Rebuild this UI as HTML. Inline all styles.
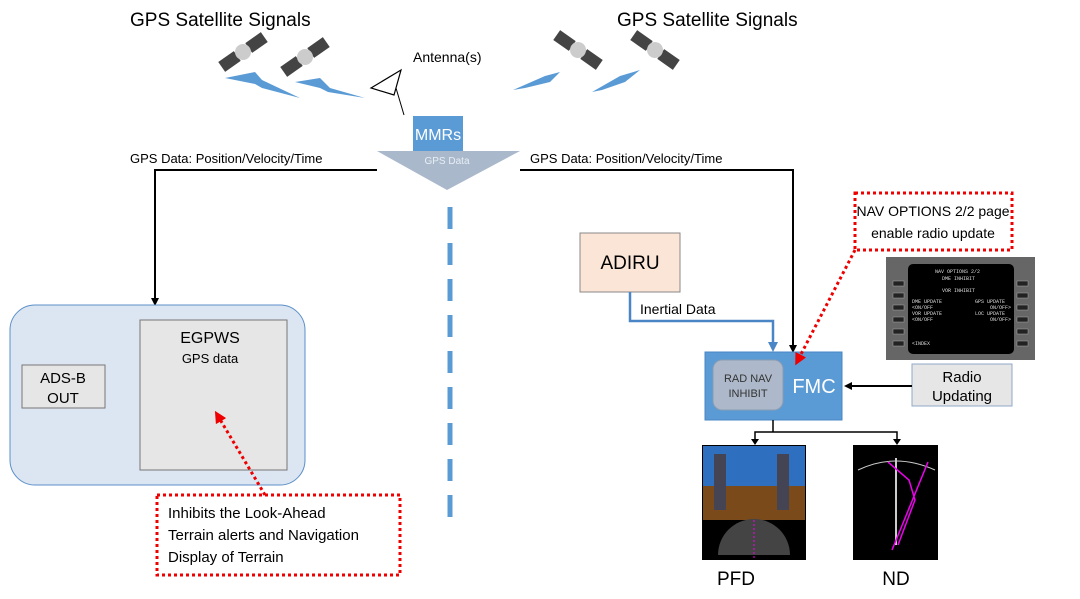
<!DOCTYPE html><html><head><meta charset="utf-8"><style>
body{margin:0;width:1080px;height:594px;background:#fff;overflow:hidden;font-family:"Liberation Sans",sans-serif}
</style></head><body>
<svg width="1080" height="594" viewBox="0 0 1080 594" font-family="Liberation Sans, sans-serif">
<defs>
<marker id="ab" markerWidth="8" markerHeight="8" refX="4" refY="4" orient="auto" markerUnits="userSpaceOnUse"><path d="M0,0 L8,4 L0,8 z" fill="#000"/></marker>
<marker id="abl" markerWidth="10" markerHeight="10" refX="5" refY="5" orient="auto" markerUnits="userSpaceOnUse"><path d="M0,0 L10,5 L0,10 z" fill="#4a86c5"/></marker>
<marker id="ar" markerWidth="12" markerHeight="12" refX="6" refY="6" orient="auto" markerUnits="userSpaceOnUse"><path d="M0,0 L12,6 L0,12 z" fill="#e00"/></marker>
<g id="sat"><rect x="-26" y="-6" width="19" height="12" fill="#444" transform="rotate(-35)"/><rect x="7" y="-6" width="19" height="12" fill="#444" transform="rotate(-35)"/><circle r="8" fill="#ccc"/></g>
</defs>
<text x="130" y="26" font-size="19">GPS Satellite Signals</text>
<text x="617" y="26" font-size="19">GPS Satellite Signals</text>
<use href="#sat" x="243" y="52"/><use href="#sat" x="305" y="57"/>
<use href="#sat" x="578" y="50" transform="rotate(70 578 50)"/><use href="#sat" x="655" y="50" transform="rotate(70 655 50)"/>
<path d="M225,78 L255,72 L262,80 L300,98 L262,88 L255,84 Z" fill="#5b9bd5"/>
<path d="M295,82 L320,78 L330,88 L365,98 L328,92 L320,88 Z" fill="#5b9bd5"/>
<path d="M513,90 L545,76 L560,72 L550,82 L525,88 Z" fill="#5b9bd5"/>
<path d="M592,92 L620,76 L640,70 L625,82 L602,90 Z" fill="#5b9bd5"/>
<text x="413" y="62" font-size="14">Antenna(s)</text>
<path d="M371,88 L401,70 L394,95 Z" fill="none" stroke="#000" stroke-width="1.2"/>
<line x1="396" y1="88" x2="404" y2="115" stroke="#000"/>
<polygon points="377,151 520,151 447,190" fill="#a9b8cb"/>
<rect x="413" y="116" width="50" height="35" fill="#5b9bd5"/>
<text x="438" y="140" font-size="16" fill="#fff" text-anchor="middle">MMRs</text>
<text x="447" y="164" font-size="10" fill="#e8eef5" text-anchor="middle">GPS Data</text>
<text x="130" y="163" font-size="13">GPS Data: Position/Velocity/Time</text>
<text x="530" y="163" font-size="13">GPS Data: Position/Velocity/Time</text>
<path d="M377,170 L155,170 L155,302" fill="none" stroke="#000" stroke-width="2" marker-end="url(#ab)"/>
<path d="M520,170 L793,170 L793,349" fill="none" stroke="#000" stroke-width="2" marker-end="url(#ab)"/>
<line x1="450" y1="207" x2="450" y2="522" stroke="#5b9bd5" stroke-width="5" stroke-dasharray="22,14"/>
<rect x="10" y="305" width="295" height="180" rx="25" fill="#dce6f2" stroke="#5b8fc8"/>
<rect x="140" y="320" width="147" height="150" fill="#e6e6e6" stroke="#777"/>
<text x="210" y="343" font-size="16" text-anchor="middle">EGPWS</text>
<text x="210" y="363" font-size="13" text-anchor="middle">GPS data</text>
<rect x="22" y="365" width="83" height="43" fill="#e6e6e6" stroke="#777"/>
<text x="63" y="383" font-size="15" text-anchor="middle">ADS-B</text>
<text x="63" y="403" font-size="15" text-anchor="middle">OUT</text>
<rect x="157" y="495" width="243" height="80" fill="none" stroke="#e00" stroke-width="3" stroke-dasharray="3,3"/>
<text x="168" y="518" font-size="15">Inhibits the Look-Ahead</text>
<text x="168" y="540" font-size="15">Terrain alerts and Navigation</text>
<text x="168" y="562" font-size="15">Display of Terrain</text>
<line x1="265" y1="495" x2="218" y2="416" stroke="#e00" stroke-width="3" stroke-dasharray="3,3" marker-end="url(#ar)"/>
<rect x="580" y="233" width="100" height="59" fill="#fbe5d6" stroke="#888"/>
<text x="630" y="269" font-size="19" text-anchor="middle">ADIRU</text>
<text x="640" y="314" font-size="14">Inertial Data</text>
<path d="M630,292 L630,321 L773,321 L773,347" fill="none" stroke="#4a86c5" stroke-width="2.5" marker-end="url(#abl)"/>
<rect x="705" y="352" width="137" height="68" fill="#5b9bd5" stroke="#4a86c5"/>
<rect x="713" y="360" width="70" height="50" rx="9" fill="#adb9ca" stroke="#8a9bb2"/>
<text x="748" y="382" font-size="11" fill="#333" text-anchor="middle">RAD NAV</text>
<text x="748" y="397" font-size="11" fill="#333" text-anchor="middle">INHIBIT</text>
<text x="814" y="393" font-size="20" fill="#fff" text-anchor="middle">FMC</text>
<rect x="855" y="193" width="157" height="57" fill="#fff" stroke="#e00" stroke-width="3" stroke-dasharray="3,3"/>
<text x="933" y="216" font-size="14" text-anchor="middle">NAV OPTIONS 2/2  page</text>
<text x="933" y="238" font-size="14" text-anchor="middle">enable radio update</text>
<line x1="855" y1="250" x2="798" y2="360" stroke="#e00" stroke-width="3" stroke-dasharray="3,3" marker-end="url(#ar)"/>
<rect x="886" y="257" width="149" height="103" fill="#666"/>
<rect x="908" y="264" width="106" height="90" rx="5" fill="#000"/>
<g fill="#222" stroke="#aaa" stroke-width="0.5">
<rect x="893" y="281" width="11" height="5"/><rect x="893" y="293" width="11" height="5"/><rect x="893" y="305" width="11" height="5"/><rect x="893" y="317" width="11" height="5"/><rect x="893" y="329" width="11" height="5"/><rect x="893" y="341" width="11" height="5"/>
<rect x="1017" y="281" width="11" height="5"/><rect x="1017" y="293" width="11" height="5"/><rect x="1017" y="305" width="11" height="5"/><rect x="1017" y="317" width="11" height="5"/><rect x="1017" y="329" width="11" height="5"/><rect x="1017" y="341" width="11" height="5"/></g>
<g fill="#ddd" font-size="5" font-family="Liberation Mono, monospace">
<text x="935" y="273">NAV OPTIONS  2/2</text><text x="942" y="280">DME INHIBIT</text><text x="942" y="292">VOR INHIBIT</text>
<text x="912" y="303">DME UPDATE</text><text x="975" y="303">GPS UPDATE</text>
<text x="912" y="309">&lt;ON/OFF</text><text x="990" y="309">ON/OFF&gt;</text>
<text x="912" y="315">VOR UPDATE</text><text x="975" y="315">LOC UPDATE</text>
<text x="912" y="321">&lt;ON/OFF</text><text x="990" y="321">ON/OFF&gt;</text>
<text x="912" y="345">&lt;INDEX</text></g>
<rect x="912" y="364" width="100" height="42" fill="#e7e6e6" stroke="#8fa8c8"/>
<text x="962" y="382" font-size="15" text-anchor="middle">Radio</text>
<text x="962" y="401" font-size="15" text-anchor="middle">Updating</text>
<line x1="912" y1="386" x2="848" y2="386" stroke="#000" stroke-width="2" marker-end="url(#ab)"/>
<path d="M773,420 L773,432 L755,432 L755,441 M773,432 L897,432 L897,441" fill="none" stroke="#000" stroke-width="1.5"/>
<path d="M751,439 L759,439 L755,445Z M893,439 L901,439 L897,445Z" fill="#000"/>
<rect x="702" y="445" width="104" height="115" fill="#000"/>
<rect x="703" y="446" width="102" height="40" fill="#2f6fc0"/>
<rect x="703" y="486" width="102" height="34" fill="#7b4a1a"/>
<rect x="714" y="454" width="12" height="56" fill="#445"/><rect x="777" y="454" width="12" height="56" fill="#445"/>
<path d="M718,555 A36,36 0 0 1 790,555 Z" fill="#444"/>
<line x1="754" y1="520" x2="754" y2="558" stroke="#e0e" stroke-dasharray="2,2"/>
<rect x="853" y="445" width="85" height="115" fill="#000"/>
<path d="M858,470 Q895,452 935,470" fill="none" stroke="#ccc"/>
<line x1="896" y1="458" x2="896" y2="545" stroke="#ccc" stroke-width="2"/>
<path d="M888,462 L909,480 L915,500 L898,545 M928,462 L892,550" fill="none" stroke="#e0e" stroke-width="1.5"/>
<text x="736" y="585" font-size="19" text-anchor="middle">PFD</text>
<text x="896" y="585" font-size="19" text-anchor="middle">ND</text>
</svg>
</body></html>
